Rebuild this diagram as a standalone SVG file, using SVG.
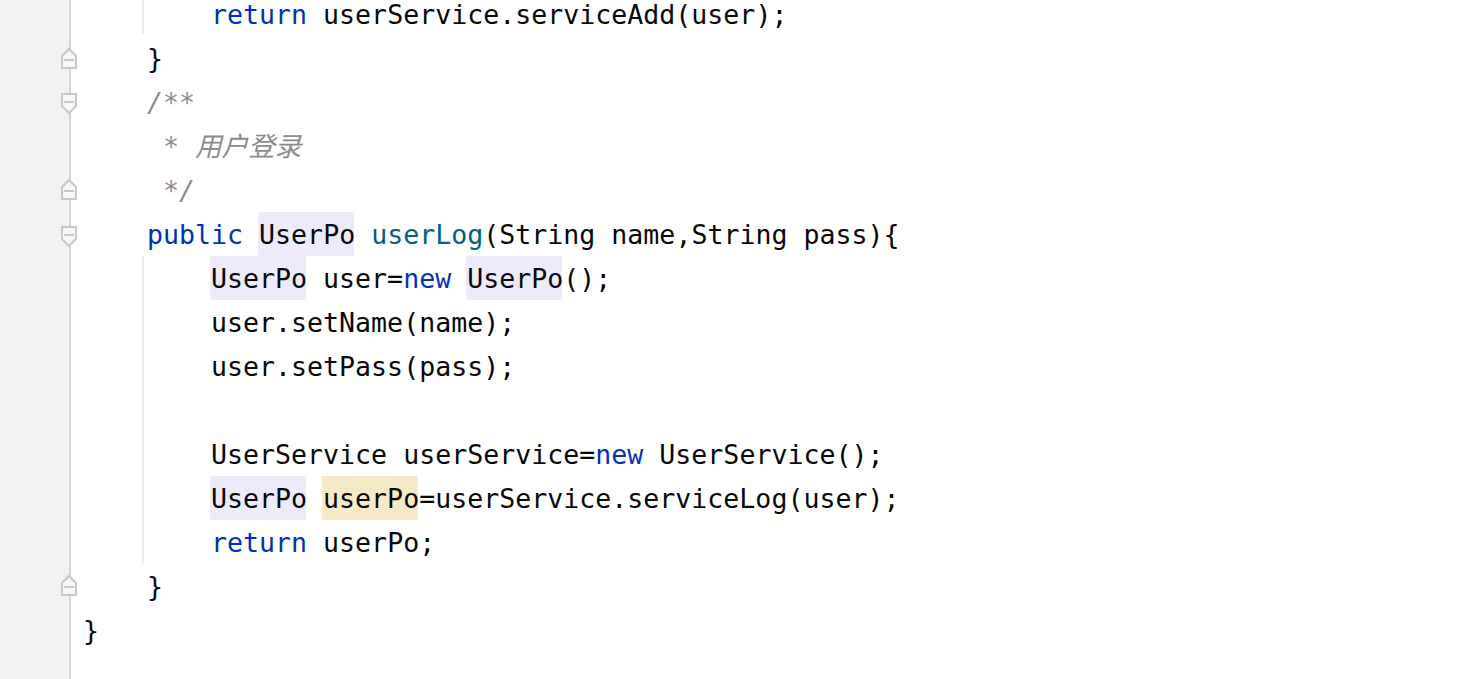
<svg xmlns="http://www.w3.org/2000/svg" width="1476" height="679" viewBox="0 0 1476 679">
<style>
text{font-family:"DejaVu Sans Mono","Liberation Mono","Noto Sans CJK SC",monospace;font-size:26.6px;fill:#080808;white-space:pre}
.k{fill:#0033b3}.m{fill:#00627a}.c{fill:#8c8c8c;font-style:italic}
.f{fill:#f7f7f7;stroke:#c8c8c8;stroke-width:2}
</style>
<rect width="1476" height="679" fill="#ffffff"/>
<rect width="70" height="679" fill="#f2f2f2"/>
<line x1="70" y1="0" x2="70" y2="679" stroke="#d4d4d4" stroke-width="2"/>
<g id="guides" stroke="#e4e4e4" stroke-width="1.5">
<line x1="143" y1="0" x2="143" y2="34"/>
<line x1="143" y1="256" x2="143" y2="564"/>
</g>
<g id="folds">
<path class="f" d="M62,68 V56 L69,49 L76,56 V68 Z"/><line x1="64" y1="60" x2="74" y2="60" stroke="#c8c8c8" stroke-width="2"/>
<path class="f" d="M62,94 V106 L69,113 L76,106 V94 Z"/><line x1="64" y1="102" x2="74" y2="102" stroke="#c8c8c8" stroke-width="2"/>
<path class="f" d="M62,199 V187 L69,180 L76,187 V199 Z"/><line x1="64" y1="191" x2="74" y2="191" stroke="#c8c8c8" stroke-width="2"/>
<path class="f" d="M62,227 V239 L69,246 L76,239 V227 Z"/><line x1="64" y1="235" x2="74" y2="235" stroke="#c8c8c8" stroke-width="2"/>
<path class="f" d="M62,595 V583 L69,576 L76,583 V595 Z"/><line x1="64" y1="587" x2="74" y2="587" stroke="#c8c8c8" stroke-width="2"/>
</g>
<g id="highlights">
<rect x="258" y="212" width="96" height="44" fill="#edeafa"/>
<rect x="210" y="256" width="96" height="44" fill="#edeafa"/>
<rect x="466" y="256" width="96" height="44" fill="#edeafa"/>
<rect x="210" y="476" width="96" height="44" fill="#edeafa"/>
<rect x="322" y="476" width="96" height="44" fill="#f6eac6"/>
</g>
<g id="code">
<text x="211" y="24"><tspan class="k">return</tspan> userService.serviceAdd(user);</text>
<text x="147" y="68">}</text>
<text x="147" y="112" class="c">/**</text>
<text x="163" y="156" class="c">* 用户登录</text>
<text x="163" y="200" class="c">*/</text>
<text x="147" y="244"><tspan class="k">public</tspan> UserPo <tspan class="m">userLog</tspan>(String name,String pass){</text>
<text x="211" y="288">UserPo user=<tspan class="k">new</tspan> UserPo();</text>
<text x="211" y="332">user.setName(name);</text>
<text x="211" y="376">user.setPass(pass);</text>
<text x="211" y="464">UserService userService=<tspan class="k">new</tspan> UserService();</text>
<text x="211" y="508">UserPo userPo=userService.serviceLog(user);</text>
<text x="211" y="552"><tspan class="k">return</tspan> userPo;</text>
<text x="147" y="596">}</text>
<text x="83" y="640">}</text>
</g>
</svg>
